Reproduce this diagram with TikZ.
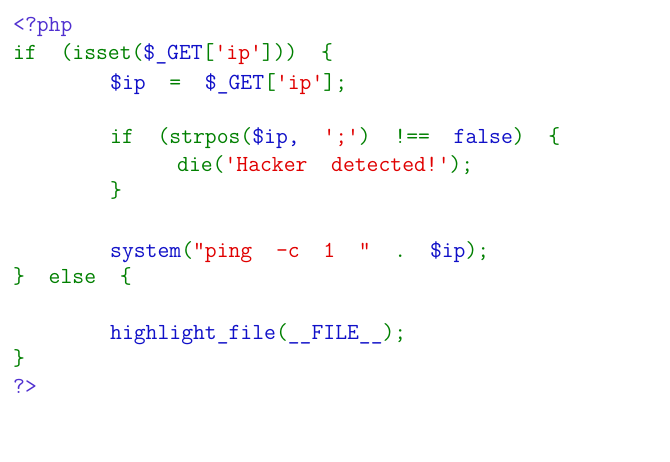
\documentclass[tikz,border=0pt]{standalone}
\usepackage{fontspec}
\definecolor{kb}{HTML}{1010C8}
\definecolor{kg}{HTML}{008000}
\definecolor{kr}{HTML}{E00000}
\definecolor{kp}{HTML}{5030D0}
\newcommand{\B}[1]{\textcolor{kb}{#1}}
\newcommand{\G}[1]{\textcolor{kg}{#1}}
\newcommand{\R}[1]{\textcolor{kr}{#1}}
\tikzset{code/.style={anchor=base west,inner sep=0pt,font=\ttfamily\fontsize{23}{23}\selectfont}}
\begin{document}
\begin{tikzpicture}[x=1pt,y=-1pt]
\useasboundingbox[fill=white] (0,0) rectangle (670,461);
\node[code] (l1) at (13,31) {\textcolor{kp}{<?php}};
\node[code] (l2) at (13,59) {\G{if~~(isset(}\B{\$\_GET}\G{[}\R{'ip'}\G{]))~~\{}};
\node[code] (l3) at (110,89) {\B{\$ip}\G{~~=~~}\B{\$\_GET}\G{[}\R{'ip'}\G{];}};
\node[code] (l5) at (110,143) {\G{if~~(strpos(}\B{\$ip,}\G{~~}\R{';'}\G{)~~!==~~}\B{false}\G{)~~\{}};
\node[code] (l6) at (177,171) {\G{die(}\R{'Hacker~~detected!'}\G{);}};
\node[code] (l7) at (110,197) {\G{\}}};
\node[code] (l9) at (110,257) {\B{system}\G{(}\R{"ping~~-c~~1~~"}\G{~~.~~}\B{\$ip}\G{);}};
\node[code] (l10) at (13,283) {\G{\}~~else~~\{}};
\node[code] (l12) at (110,339) {\B{highlight\_file}\G{(}\B{\_\_FILE\_\_}\G{);}};
\node[code] (l13) at (13,365) {\G{\}}};
\node[code] (l14) at (13,393) {\textcolor{kp}{?>}};
\end{tikzpicture}
\end{document}
